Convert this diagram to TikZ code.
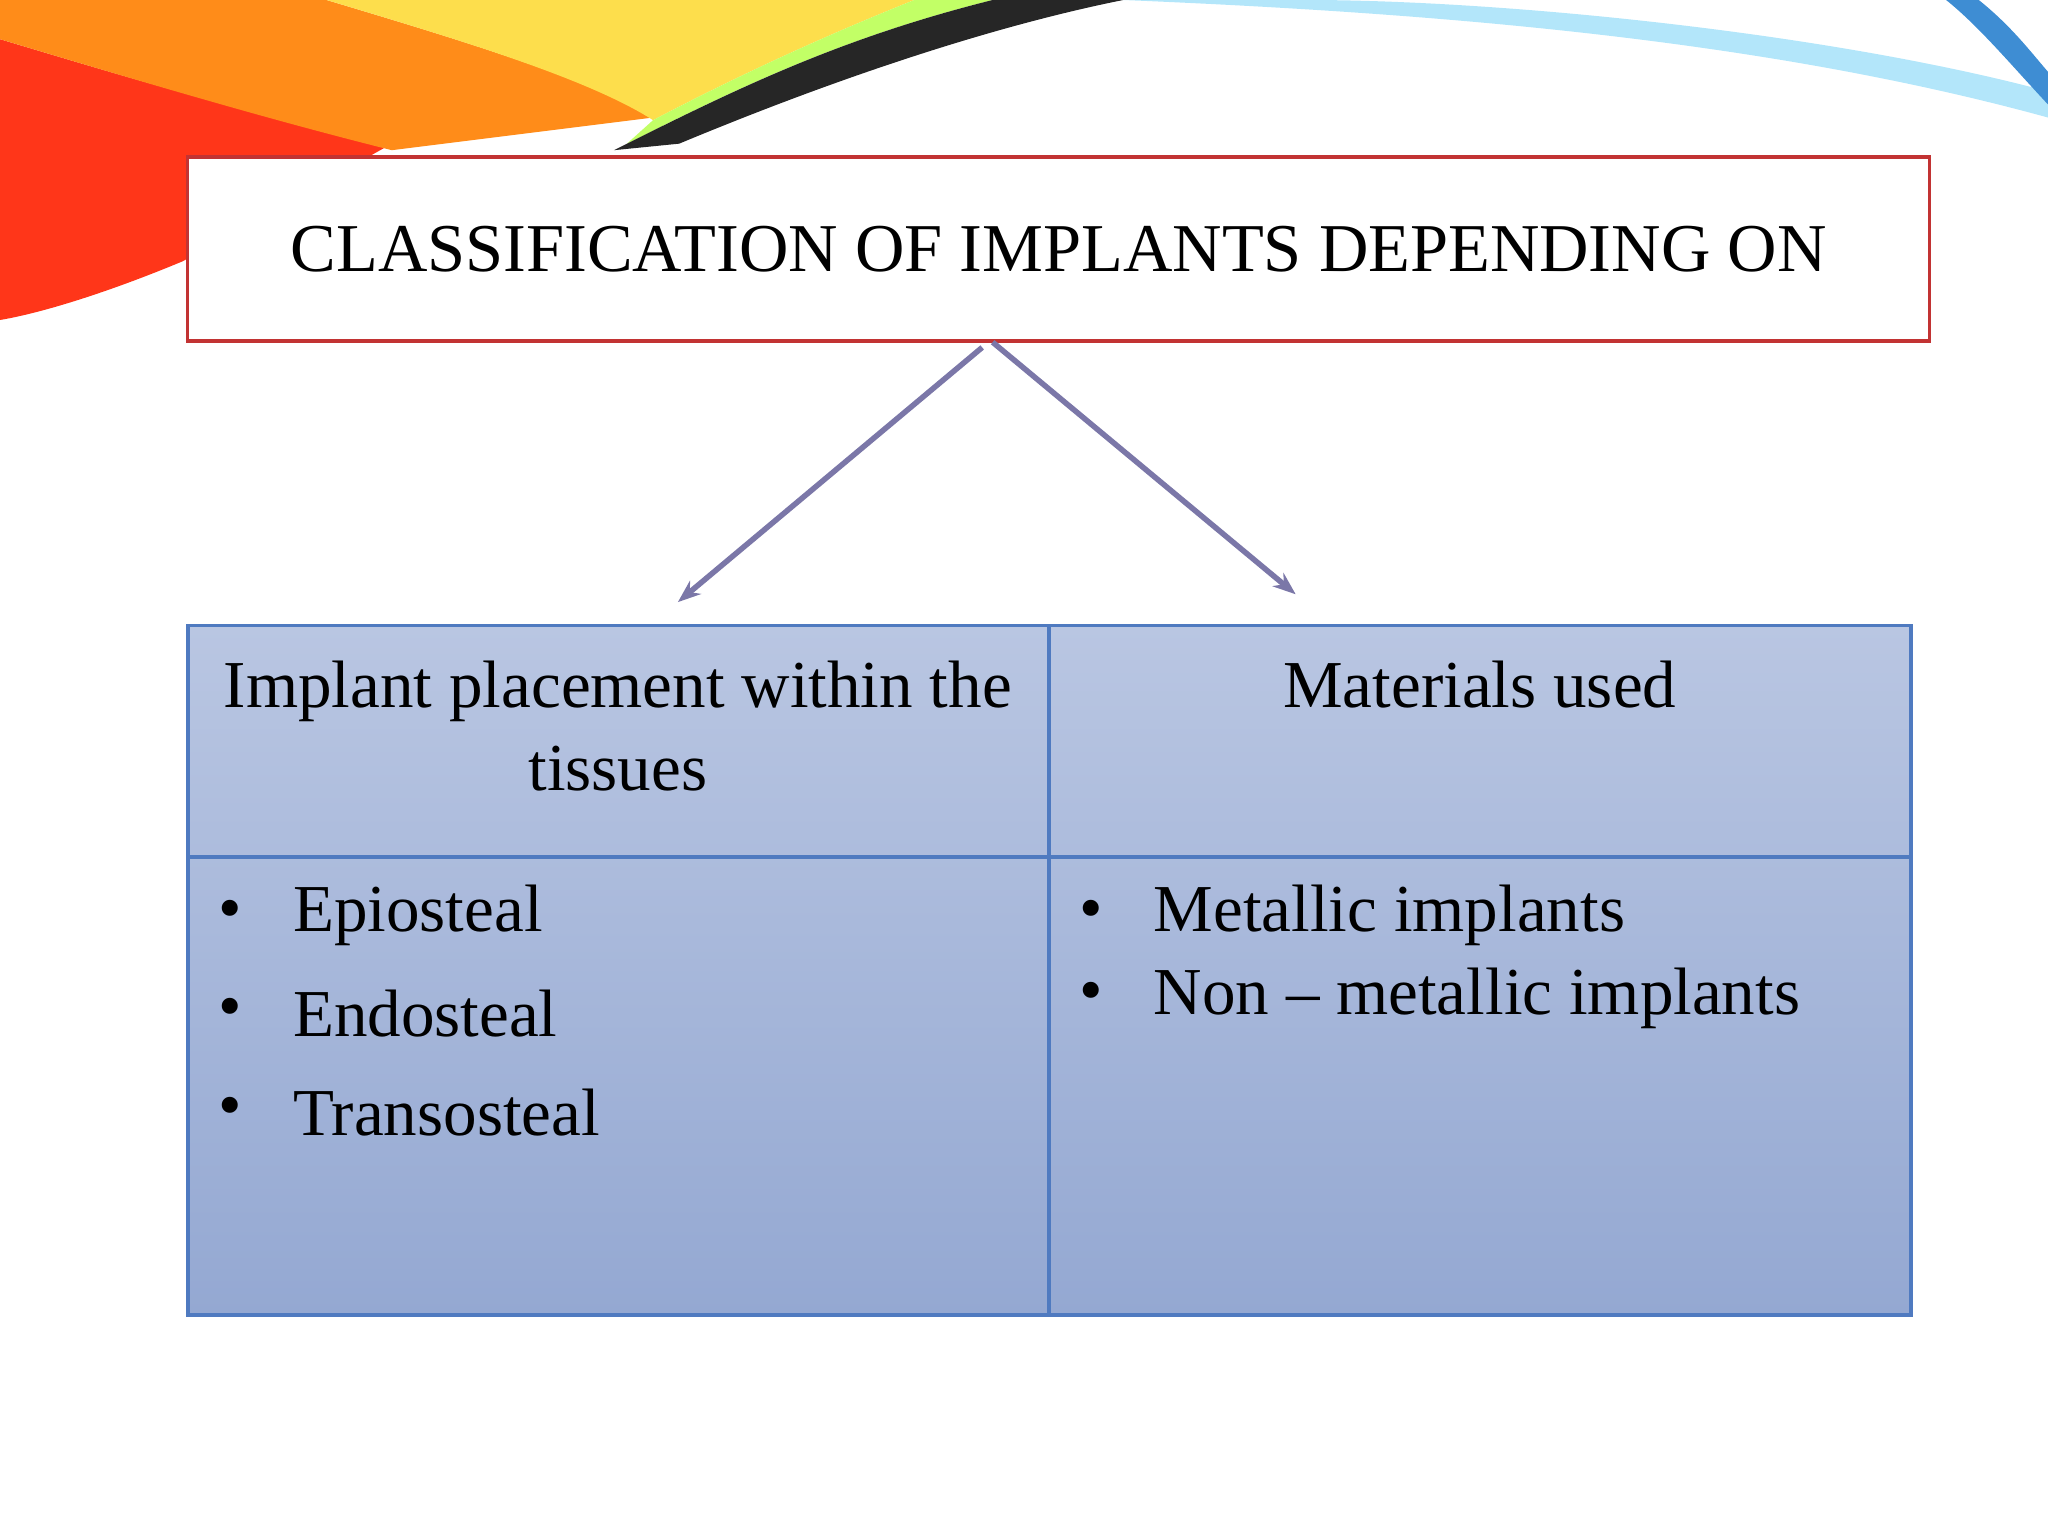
\documentclass[tikz,border=0pt]{standalone}
\usepackage{fontspec}
\setmainfont{Liberation Serif}
\usetikzlibrary{arrows.meta}
\definecolor{bord}{HTML}{4F7AC0}
\definecolor{tbltop}{HTML}{B9C6E2}
\definecolor{tblbot}{HTML}{94A8D2}
\definecolor{arr}{HTML}{7B77A8}
\tikzset{
  cell/.style={font=\fontsize{14.6}{18}\selectfont, align=center},
  item/.style={font=\fontsize{14.6}{18}\selectfont, anchor=west},
  conn/.style={draw=arr, line width=1.2pt, -{Stealth[length=5pt]}}
}
\begin{document}
\begin{tikzpicture}[x=0.01cm,y=-0.01cm]
\useasboundingbox (0,0) rectangle (1568,1176);
% decorative swoosh
\fill[red!75!orange!90] (0,30) .. controls (100,60) and (200,90) .. (300,110) -- (140,200) .. controls (80,225) and (30,240) .. (0,245) -- cycle;
\fill[orange!90] (0,0) -- (250,0) .. controls (350,30) and (450,60) .. (500,90) -- (300,115) .. controls (200,90) and (100,60) .. (0,30) -- cycle;
\fill[yellow!70!orange!70] (250,0) -- (700,0) .. controls (650,20) and (580,50) .. (500,92) .. controls (450,60) and (350,30) .. (250,0) -- cycle;
\fill[green!40!yellow!60] (700,0) -- (760,0) .. controls (640,30) and (560,70) .. (480,110) -- (500,92) .. controls (580,50) and (650,20) .. (700,0) -- cycle;
\fill[black!85] (760,0) .. controls (640,30) and (560,70) .. (470,115) -- (520,110) .. controls (640,60) and (760,20) .. (860,0) -- cycle;
\fill[cyan!30] (860,0) .. controls (1100,10) and (1350,30) .. (1568,90) -- (1568,70) .. controls (1400,25) and (1150,0) .. (1000,0) -- cycle;
\fill[cyan!60!blue!80] (1490,0) -- (1515,0) .. controls (1540,20) and (1555,40) .. (1568,55) -- (1568,80) .. controls (1540,50) and (1515,20) .. (1490,0) -- cycle;
% title
\node[draw=red!70!black!80, fill=white, line width=0.8pt, minimum width=13.33cm, minimum height=1.41cm, inner sep=0pt,
  font=\fontsize{14.9}{18}\selectfont] (title) at (810.5,190.5) {CLASSIFICATION OF IMPLANTS DEPENDING ON};
% table
\shade[top color=tbltop, bottom color=tblbot] (144,479) rectangle (1463,1007);
\draw[bord, line width=0.8pt] (144,479) rectangle (1463,1007);
\draw[bord, line width=0.8pt] (803,479) -- (803,1007);
\draw[bord, line width=0.8pt] (144,656) -- (1463,656);
\coordinate (lt) at (519,461);
\coordinate (rt) at (992,455);
\coordinate (s1) at (752,266);
\coordinate (s2) at (760,262);
\draw[conn] (s1) -- (lt);
\draw[conn] (s2) -- (rt);
\node[cell, anchor=north] (h1) at (473,494) {Implant placement within the\\tissues};
\node[cell, anchor=north] (h2) at (1133,494) {Materials used};
\foreach \y/\t [count=\i] in {701/Epiosteal,776/Endosteal,852/Transosteal}{
  \node[item] (lb\i) at (155,\y) {•};
  \node[item] (l\i) at (212,\y) {\t};
}
\foreach \y/\t [count=\i] in {701/Metallic implants,764/Non – metallic implants}{
  \node[item] (rb\i) at (814,\y) {•};
  \node[item] (r\i) at (871,\y) {\t};
}
\end{tikzpicture}
\end{document}
